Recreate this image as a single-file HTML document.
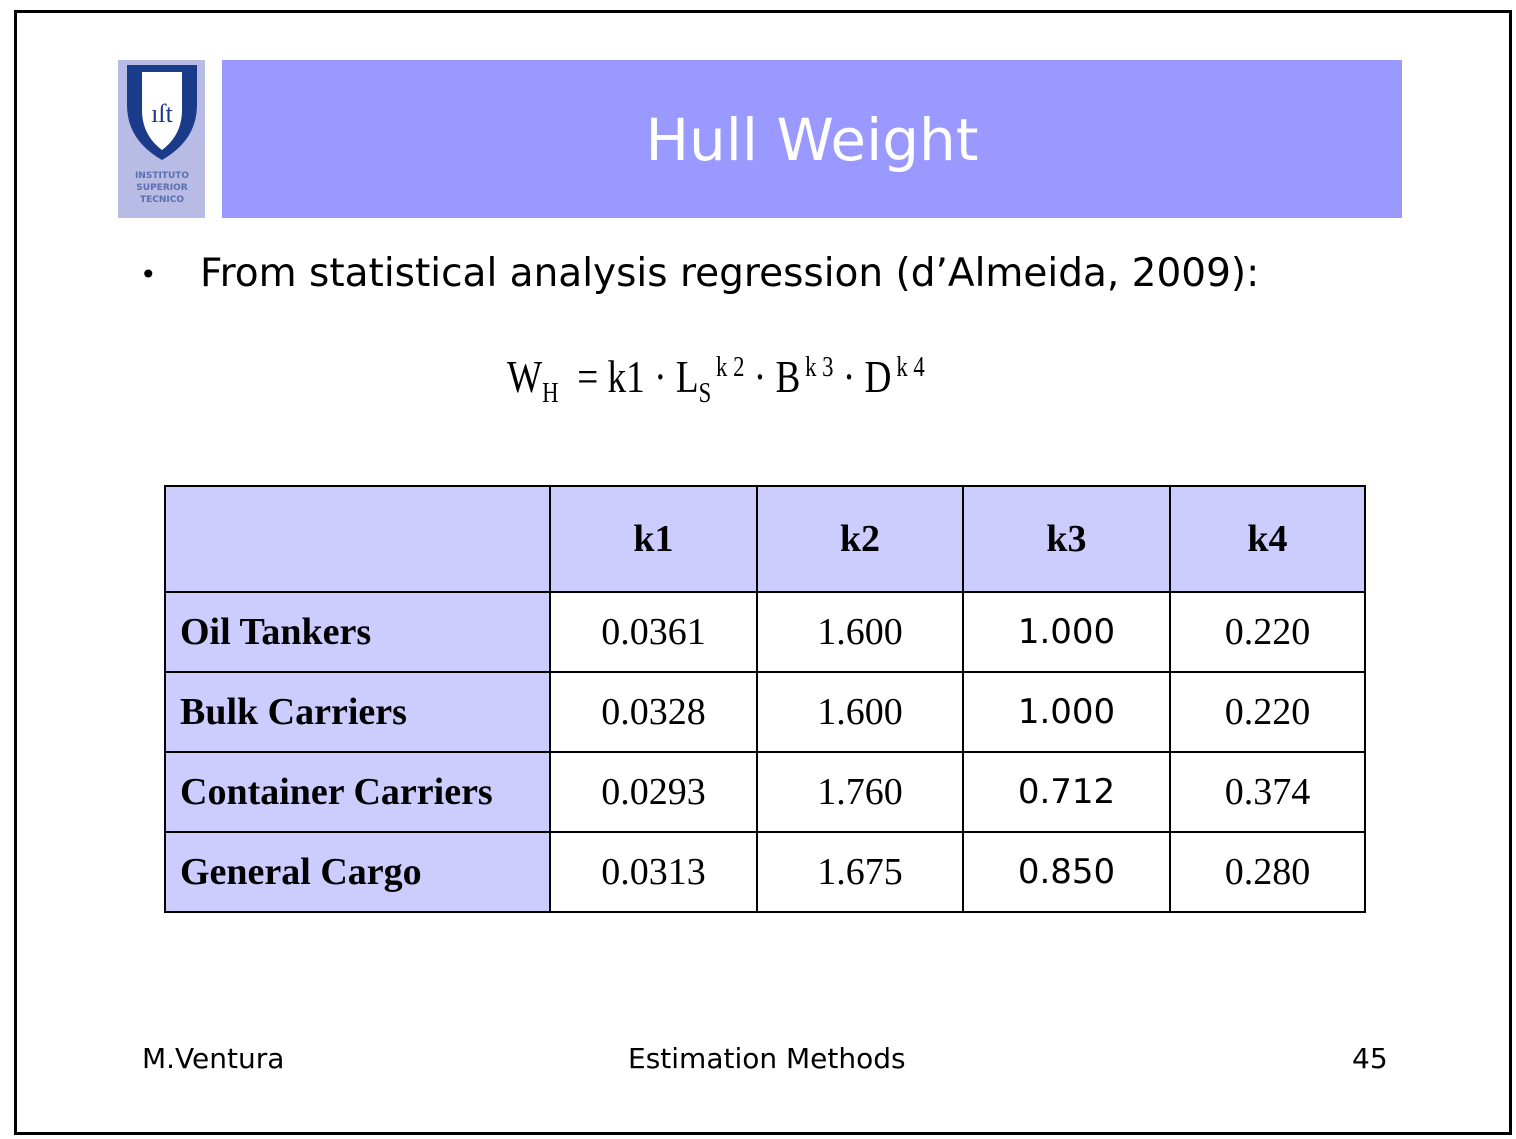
<!DOCTYPE html>
<html><head><meta charset="utf-8"><style>
body{margin:0;width:1516px;height:1139px;background:#fff;position:relative;overflow:hidden;font-family:"DejaVu Sans","Liberation Sans",sans-serif}
.a{position:absolute}
#frame{left:14px;top:10px;width:1492px;height:1119px;border:3px solid #000}
#logo{left:118px;top:60px;width:87px;height:158px;background:#b8bbe3}
#bar{left:222px;top:60px;width:1180px;height:158px;background:#9999ff}
#title{left:222px;top:100px;width:1180px;text-align:center;color:#fff;font-size:58px;line-height:80px}
#bul{left:140px;top:258px;font-size:28px}
#txt{left:200px;top:251px;font-size:39px;color:#000}
#eq{left:507px;top:350px;font-family:"Liberation Serif","DejaVu Serif",serif;font-size:46px;white-space:nowrap;transform:scaleX(.81);transform-origin:left}
#eq sub,#eq sup{font-size:28px}
#eq sup{margin-left:6px}
table{position:absolute;left:164px;top:485px;border-collapse:collapse;font-family:"Liberation Serif",serif}
td{border:2px solid #000;text-align:center;font-size:38px;padding:0}
.h td{background:#ccccff;font-weight:bold;height:104px}
td.n{background:#ccccff;text-align:left;font-weight:bold;padding-left:14px}
tr.r td{height:78px}
.s{font-family:"DejaVu Sans",sans-serif;font-size:34px}
.f{top:1042px;font-size:28px}
</style></head><body>
<div class="a" id="frame"></div>
<div class="a" id="logo">
<svg width="87" height="158" viewBox="0 0 87 158"><path d="M9 5 H79 V45 Q79 80 44 100 Q9 80 9 45Z" fill="#1a3a8a"/><path d="M24 12 H64 V50 Q64 75 44 90 Q24 75 24 50Z" fill="#fff"/><text x="44" y="62" text-anchor="middle" font-size="26" fill="#1a3a8a" font-family="Liberation Serif">ıſt</text>
<text x="44" y="118" text-anchor="middle" font-size="9" fill="#5a6fb0" font-weight="bold">INSTITUTO</text><text x="44" y="130" text-anchor="middle" font-size="9" fill="#5a6fb0" font-weight="bold">SUPERIOR</text><text x="44" y="142" text-anchor="middle" font-size="9" fill="#5a6fb0" font-weight="bold">TECNICO</text></svg></div>
<div class="a" id="bar"></div>
<div class="a" id="title">Hull Weight</div>
<div class="a" id="bul">•</div>
<div class="a" id="txt">From statistical analysis regression (d’Almeida, 2009):</div>
<div class="a" id="eq">W<sub>H</sub>&nbsp; = k1 · L<sub>S</sub><sup>k 2</sup> · B<sup>k 3</sup> · D<sup>k 4</sup></div>
<table>
<tr class="h"><td style="width:383px"></td><td style="width:205px">k1</td><td style="width:204px">k2</td><td style="width:205px">k3</td><td style="width:193px">k4</td></tr>
<tr class="r"><td class="n">Oil Tankers</td><td>0.0361</td><td>1.600</td><td class="s">1.000</td><td>0.220</td></tr>
<tr class="r"><td class="n">Bulk Carriers</td><td>0.0328</td><td>1.600</td><td class="s">1.000</td><td>0.220</td></tr>
<tr class="r"><td class="n">Container Carriers</td><td>0.0293</td><td>1.760</td><td class="s">0.712</td><td>0.374</td></tr>
<tr class="r"><td class="n">General Cargo</td><td>0.0313</td><td>1.675</td><td class="s">0.850</td><td>0.280</td></tr>
</table>
<div class="a f" style="left:142px">M.Ventura</div>
<div class="a f" style="left:628px">Estimation Methods</div>
<div class="a f" style="left:1352px">45</div>
</body></html>
